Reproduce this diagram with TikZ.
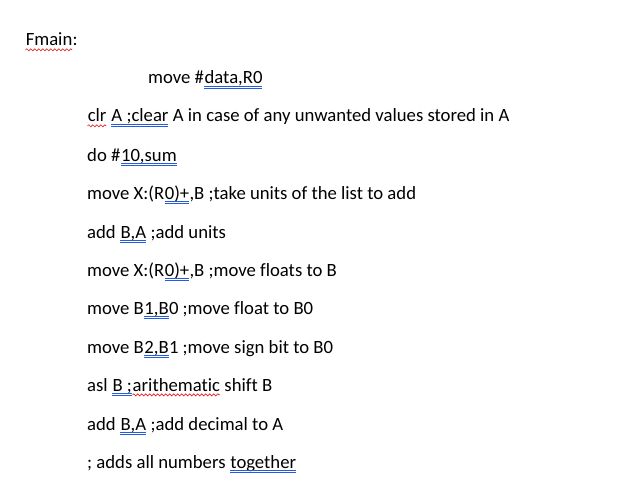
\documentclass[tikz,border=0pt]{standalone}
\usepackage{fontspec}
\setmainfont[Ligatures=NoCommon]{Carlito}
\usetikzlibrary{decorations.pathmorphing}
\definecolor{ulblue}{RGB}{40,90,220}
\definecolor{ulred}{RGB}{230,30,30}
\newsavebox\ulbox
\newcommand\bu[1]{\sbox\ulbox{#1}\tikz[baseline=0pt,x=1cm,y=1cm]{\node[inner sep=0pt,anchor=base west] at (0pt,0pt){\usebox\ulbox};
 \draw[ulblue,line width=0.8pt] (0pt,-2.6pt) -- (\wd\ulbox,-2.6pt) (0pt,-4.6pt) -- (\wd\ulbox,-4.6pt);}}
\newcommand\rw[1]{\sbox\ulbox{#1}\tikz[baseline=0pt,x=1cm,y=1cm]{\node[inner sep=0pt,anchor=base west] at (0pt,0pt){\usebox\ulbox};
 \draw[ulred,line width=0.7pt,decorate,decoration={snake,amplitude=1pt,segment length=4pt}] (0pt,-3.8pt) -- (\wd\ulbox,-3.8pt);}}
\begin{document}
\begin{tikzpicture}[x=1pt,y=-1pt,txt/.style={anchor=base west,inner sep=0pt,font=\fontsize{18.7}{21}\selectfont}]
\useasboundingbox[fill=white] (0,0) rectangle (623,489);
\node[txt] (l0) at (25,46) {\rw{Fmain}:};
\node[txt] (l1) at (148,84) {move \#\bu{data,R0}};
\node[txt] (l2) at (87,122) {\rw{clr} \bu{A ;clear} A in case of any unwanted values stored in A};
\node[txt] (l3) at (87,161) {do \#\bu{10,sum}};
\node[txt] (l4) at (87,199) {move X:(R\bu{0)+},B ;take units of the list to add};
\node[txt] (l5) at (87,238) {add \bu{B,A} ;add units};
\node[txt] (l6) at (87,276) {move X:(R\bu{0)+},B ;move floats to B};
\node[txt] (l7) at (87,314) {move B\bu{1,B}0 ;move float to B0};
\node[txt] (l8) at (87,353) {move B\bu{2,B}1 ;move sign bit to B0};
\node[txt] (l9) at (87,391) {asl \bu{B ;}\rw{arithematic} shift B};
\node[txt] (l10) at (87,430) {add \bu{B,A} ;add decimal to A};
\node[txt] (l11) at (87,468) {; adds all numbers \bu{together}};
\end{tikzpicture}
\end{document}
